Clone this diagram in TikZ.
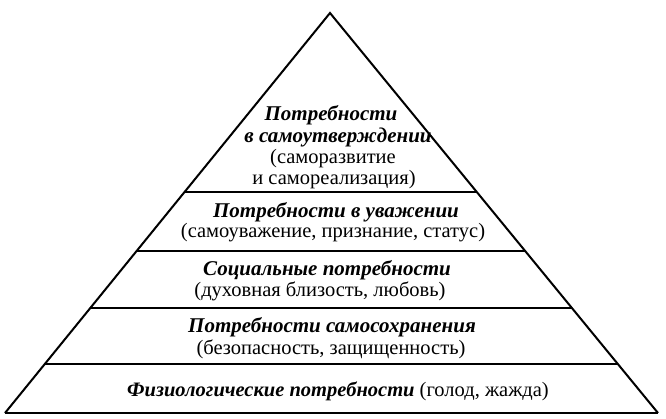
\documentclass[tikz,border=0pt]{standalone}
\usepackage{fontspec}
\setmainfont{Liberation Serif}
\usepackage{tikz}
\usetikzlibrary{calc}
\tikzset{
	head/.style={font=\fontsize{21}{25}\selectfont\bfseries\itshape, inner sep=0pt},
	note/.style={font=\fontsize{20.5}{24}\selectfont, inner sep=0pt},
	layer/.style={line width=2.2pt},
}

\begin{document}
\begin{tikzpicture}[x=1pt, y=-1pt]
			%%%%% START %%%%%
			\useasboundingbox (0, 0) rectangle (666, 419);
			
			\coordinate (apex) at (330, 13);
			\coordinate (bl) at (5, 413);
			\coordinate (br) at (658, 413);
			
			\draw[line width=2pt, line join=miter] (bl) -- (apex) -- (br);
			\draw[layer] (bl) -- (br);
			
			\draw[layer] (184.6, 192) -- (476.8, 192);
			\draw[layer] (136.6, 251) -- (525.2, 251);
			\draw[layer] (90.3, 308) -- (571.9, 308);
			\draw[layer] (44.8, 364) -- (617.8, 364);
			
			\node[head] (top1) at (331, 115) {Потребности};
			\node[head] (top2) at (338, 137) {в самоутверждении};
			\node[note] (top3) at (333, 159) {(саморазвитие};
			\node[note] (top4) at (334, 180) {и самореализация)};
			
			\node[head] (resp1) at (336, 212) {Потребности в уважении};
			\node[note] (resp2) at (333, 233) {(самоуважение, признание, статус)};
			
			\node[head] (soc1) at (327, 270) {Социальные потребности};
			\node[note] (soc2) at (320, 291) {(духовная близость, любовь)};
			
			\node[head] (safe1) at (332, 327) {Потребности самосохранения};
			\node[note] (safe2) at (331, 349) {(безопасность, защищенность)};
			
			\node (phys) at (338, 391) {\fontsize{20.5}{24}\selectfont\bfseries\itshape Физиологические потребности \mdseries\upshape(голод, жажда)};
			
			%%%%% END %%%%%
\end{tikzpicture}
\end{document}
